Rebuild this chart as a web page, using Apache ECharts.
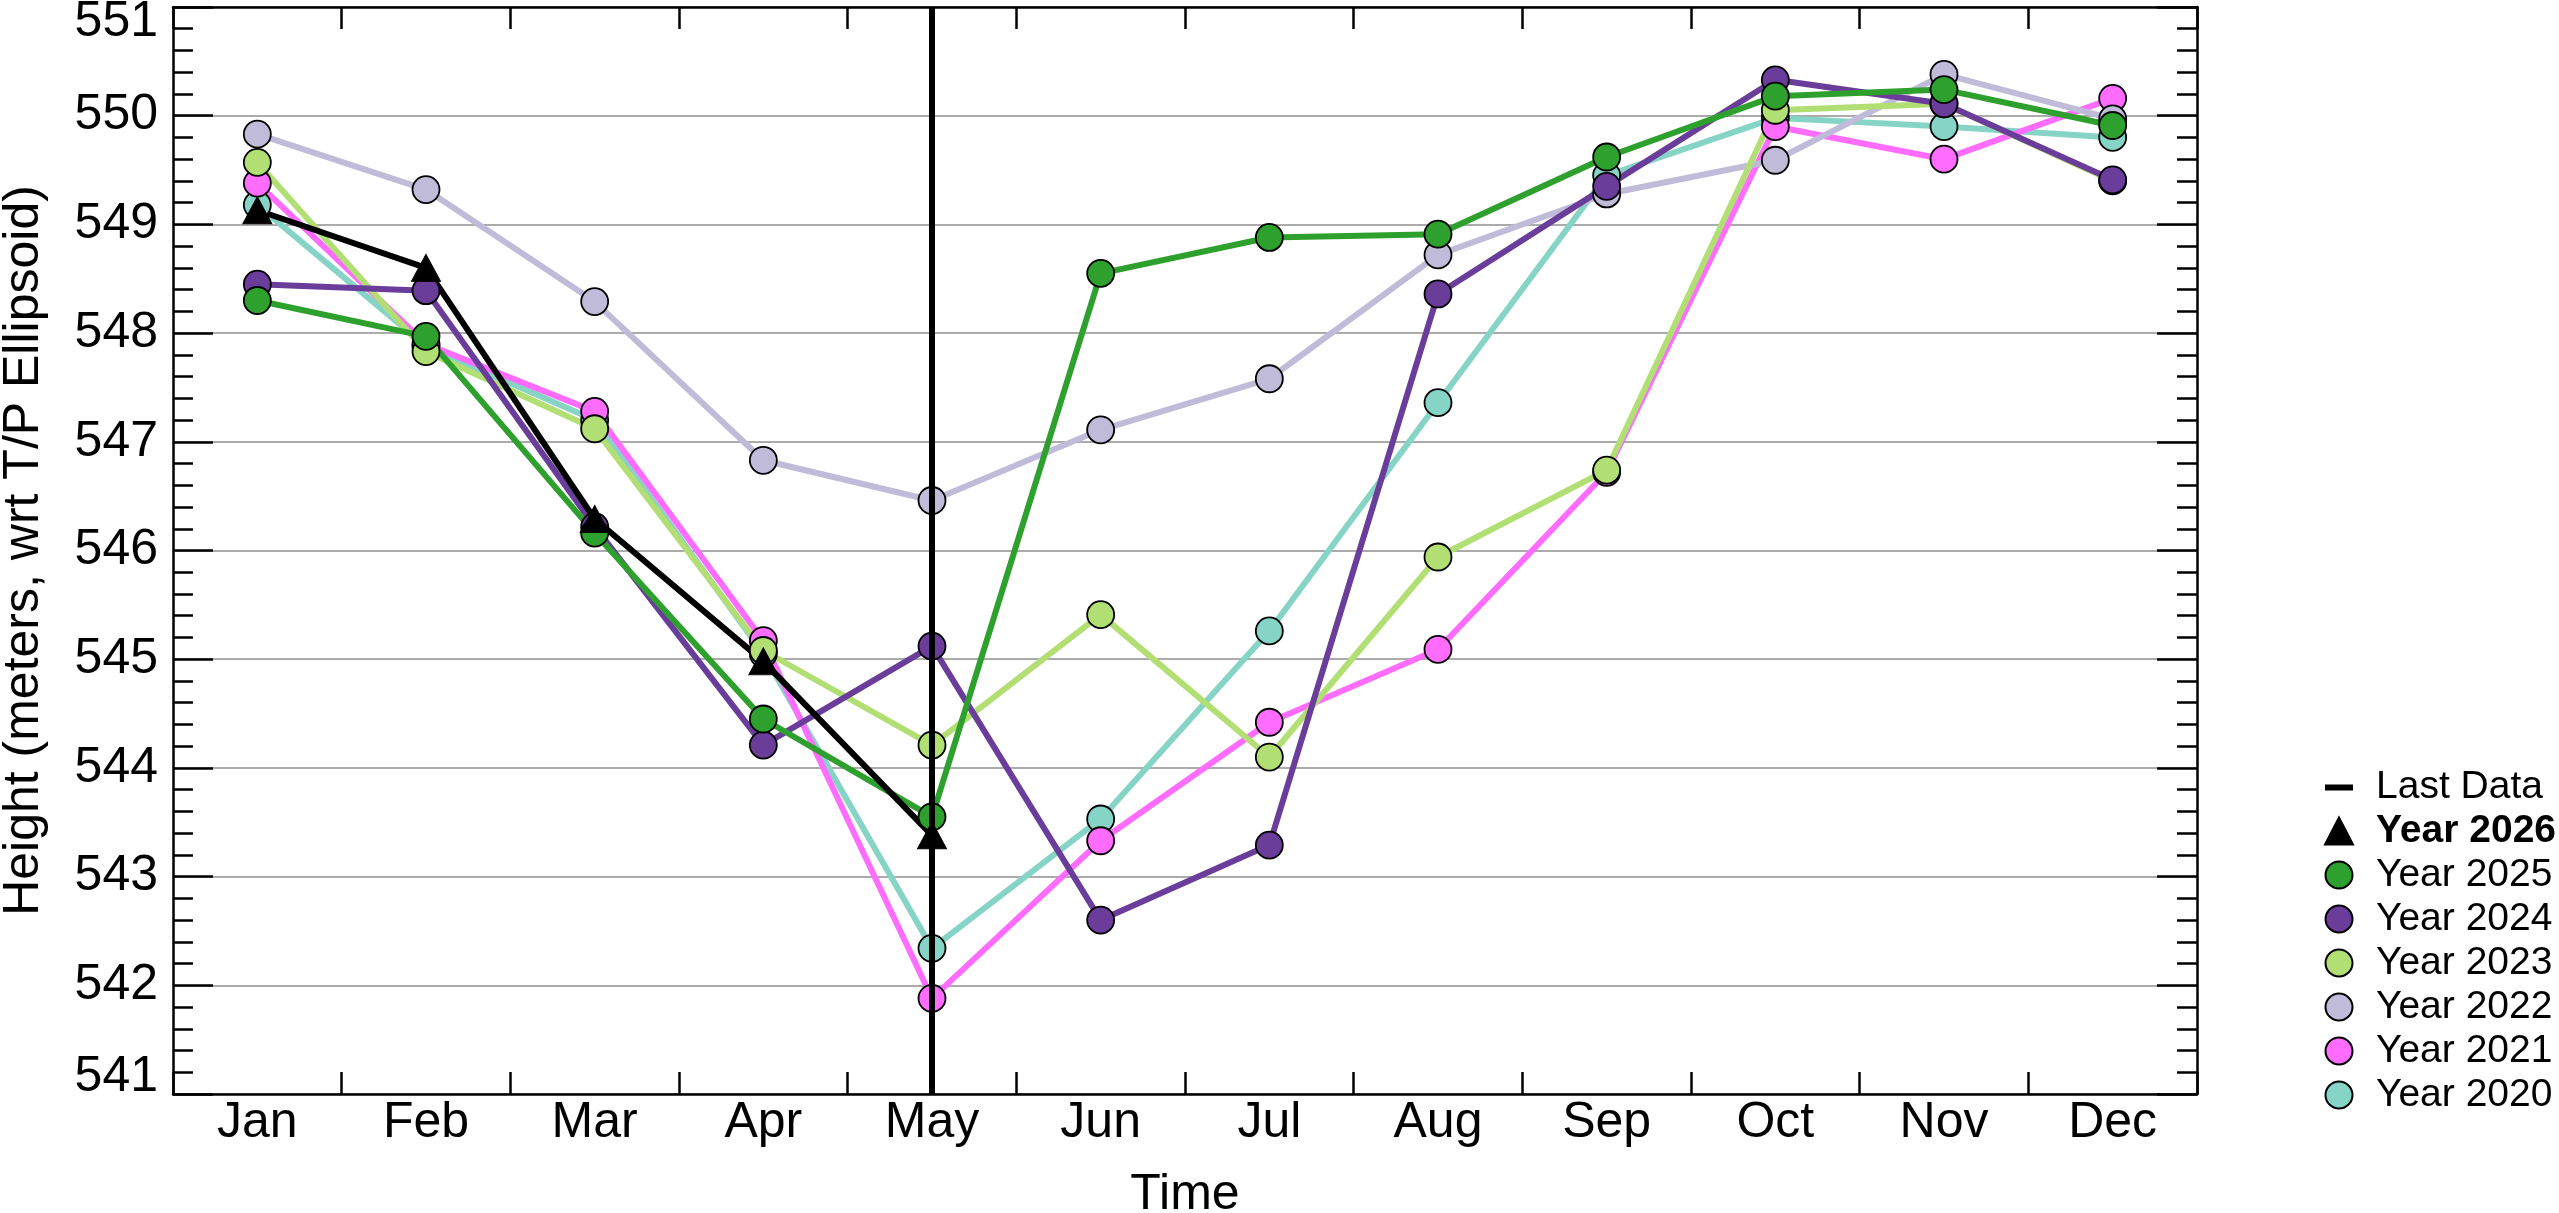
<!DOCTYPE html>
<html>
<head>
<meta charset="utf-8">
<script src="https://cdn.jsdelivr.net/npm/echarts@6/dist/echarts.min.js"></script>
<style>
html,body{margin:0;padding:0;background:#fff;}
#chart{width:2559px;height:1213px;}
</style>
</head>
<body>
<div id="chart"></div>
<script>
var months = ['Jan','Feb','Mar','Apr','May','Jun','Jul','Aug','Sep','Oct','Nov','Dec'];
var lastDataMonth = 'May';
var yearTicks = [541,542,543,544,545,546,547,548,549,550,551];
var y2026 = [549.13, 548.60, 546.29, 544.98, 543.38, null, null, null, null, null, null, null];
var y2025 = [548.30, 547.97, 546.16, 544.45, 543.55, 548.55, 548.88, 548.91, 549.62, 550.18, 550.24, 549.91];
var y2024 = [548.45, 548.39, 546.22, 544.21, 545.12, 542.60, 543.29, 548.36, 549.35, 550.33, 550.11, 549.41];
var y2023 = [549.57, 547.83, 547.12, 545.08, 544.21, 545.41, 544.10, 545.94, 546.74, 550.05, 550.11, 549.40];
var y2022 = [549.83, 549.32, 548.29, 546.83, 546.46, 547.11, 547.58, 548.72, 549.28, 549.59, 550.38, 549.97];
var y2021 = [549.38, 547.90, 547.28, 545.17, 541.88, 543.33, 544.42, 545.09, 546.72, 549.90, 549.60, 550.16];
var y2020 = [549.18, 547.88, 547.20, 545.05, 542.34, 543.53, 545.26, 547.36, 549.45, 549.98, 549.90, 549.80];

var FONT = '"Liberation Sans", Arial, Helvetica, sans-serif';
var colors = {
  y2025:'#2ea02d', y2024:'#6a3d9a', y2023:'#b2df74', y2022:'#bfbbd9',
  y2021:'#ff6cff', y2020:'#86d4c6'
};

function yearSeries(name, data, color){
  return {
    name: name, type: 'line', data: data,
    xAxisIndex: 0, yAxisIndex: 0,
    symbol: 'circle', symbolSize: 27,
    lineStyle: {color: color, width: 6},
    itemStyle: {color: color, borderColor: '#000', borderWidth: 1.8},
    emphasis: {disabled: true},
    silent: true
  };
}

var chart = echarts.init(document.getElementById('chart'), null, {renderer:'canvas'});
var dashIcon = 'path://M0,0 L0.01,0 L0.01,0.01 Z M0,11 L28,11 L28,17 L0,17 Z M0,27 L0.01,27 L0.01,26.99 Z';
var legendText = {fontSize: 39, lineHeight: 40, color: '#000', fontFamily: FONT, padding: [0,0,0,18]};

var option = {
  animation: false,
  backgroundColor: '#fff',
  textStyle: {fontFamily: FONT},
  grid: {left: 173, top: 7, width: 2024, height: 1087, containLabel: false, outerBoundsMode: 'none'},
  legend: {
    orient: 'vertical', left: 2319, top: 762,
    itemWidth: 28, itemHeight: 27, itemGap: 4,
    textStyle: legendText,
    selectedMode: false,
    data: [
      {name: 'Last Data', icon: dashIcon},
      {name: 'Year 2026', icon: 'triangle', textStyle: {fontWeight: 'bold', fontSize: 39, lineHeight: 40, fontFamily: FONT, padding: [0,0,0,18]}},
      {name: 'Year 2025', icon: 'circle'},
      {name: 'Year 2024', icon: 'circle'},
      {name: 'Year 2023', icon: 'circle'},
      {name: 'Year 2022', icon: 'circle'},
      {name: 'Year 2021', icon: 'circle'},
      {name: 'Year 2020', icon: 'circle'}
    ]
  },
  xAxis: [{
    type: 'category', data: months, position: 'bottom', boundaryGap: true,
    axisLine: {show: true, lineStyle: {color: '#000', width: 2.5}},
    axisTick: {show: true, inside: true, length: 22, alignWithLabel: false, lineStyle: {color: '#000', width: 2.5}},
    axisLabel: {fontSize: 50, color: '#000', margin: 4, fontFamily: FONT, interval: 0},
    splitLine: {show: false},
    name: 'Time', nameLocation: 'middle', nameGap: 76,
    nameTextStyle: {fontSize: 50, color: '#000', fontFamily: FONT}
  }, {
    type: 'category', data: months, position: 'top', boundaryGap: true,
    axisLine: {show: true, lineStyle: {color: '#000', width: 2.5}},
    axisTick: {show: true, inside: true, length: 22, lineStyle: {color: '#000', width: 2.5}},
    axisLabel: {show: false}, splitLine: {show: false}
  }],
  yAxis: [{
    type: 'value', min: yearTicks[0], max: yearTicks[yearTicks.length-1], interval: 1, position: 'left',
    axisLine: {show: true, lineStyle: {color: '#000', width: 2.5}},
    axisTick: {show: true, inside: true, length: 40, lineStyle: {color: '#000', width: 2.5}},
    minorTick: {show: true, splitNumber: 5, length: 20, lineStyle: {color: '#000', width: 2.5}},
    splitLine: {show: true, lineStyle: {color: '#ababab', width: 2}},
    axisLabel: {
      fontSize: 50, color: '#000', margin: 15, fontFamily: FONT,
      formatter: function(v){
        if (v === yearTicks[0]) return '{lo|' + v + '}';
        if (v === yearTicks[yearTicks.length-1]) return '{hi|' + v + '}';
        return String(v);
      },
      rich: {
        lo: {fontSize: 50, color: '#000', fontFamily: FONT, padding: [0,0,34,0]},
        hi: {fontSize: 50, color: '#000', fontFamily: FONT, padding: [30,0,0,0]}
      }
    },
    name: 'Height (meters, wrt T/P Ellipsoid)', nameLocation: 'middle', nameGap: 124, nameRotate: 90,
    nameTextStyle: {fontSize: 50, color: '#000', fontFamily: FONT}
  }, {
    type: 'value', min: yearTicks[0], max: yearTicks[yearTicks.length-1], interval: 1, position: 'right',
    axisLine: {show: true, lineStyle: {color: '#000', width: 2.5}},
    axisTick: {show: true, inside: true, length: 40, lineStyle: {color: '#000', width: 2.5}},
    minorTick: {show: true, splitNumber: 5, length: 20, lineStyle: {color: '#000', width: 2.5}},
    splitLine: {show: false},
    axisLabel: {show: false}
  }],
  series: [
    {
      name: 'Last Data', type: 'line', data: [], xAxisIndex: 0, yAxisIndex: 0,
      itemStyle: {color: '#000'}, lineStyle: {color: '#000'},
      markLine: {
        silent: true, symbol: ['none','none'], animation: false,
        label: {show: false},
        lineStyle: {color: '#000', width: 6, type: 'solid'},
        emphasis: {disabled: true},
        data: [{xAxis: lastDataMonth}]
      }
    },
    yearSeries('Year 2020', y2020, colors.y2020),
    yearSeries('Year 2021', y2021, colors.y2021),
    yearSeries('Year 2022', y2022, colors.y2022),
    yearSeries('Year 2023', y2023, colors.y2023),
    yearSeries('Year 2024', y2024, colors.y2024),
    yearSeries('Year 2025', y2025, colors.y2025),
    {
      name: 'Year 2026', type: 'line', data: y2026, xAxisIndex: 0, yAxisIndex: 0,
      symbol: 'triangle', symbolSize: [29, 27],
      lineStyle: {color: '#000', width: 6},
      itemStyle: {color: '#000', borderColor: '#000', borderWidth: 1},
      emphasis: {disabled: true}, silent: true
    }
  ]
};
chart.setOption(option);
</script>
</body>
</html>
